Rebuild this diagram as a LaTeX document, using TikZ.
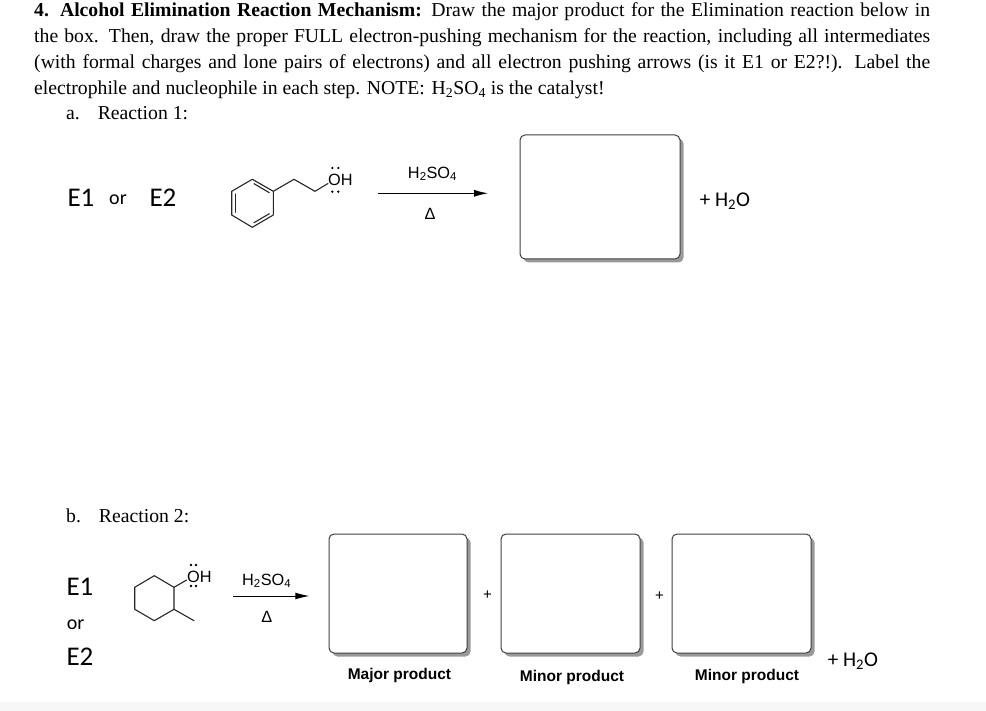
\documentclass[tikz,border=0pt]{standalone}
\usepackage{fontspec}
\setmainfont{Liberation Serif}
\newfontfamily\chemfont{Liberation Sans}
\newfontfamily\calfont{Carlito}
\usetikzlibrary{positioning,arrows.meta,shadows}

\begin{document}
\begin{tikzpicture}[x=1pt,y=-1pt,
    question/.style={anchor=west, inner sep=0pt, font=\fontsize{19.7}{26}\selectfont},
    chem/.style={inner sep=0pt, font=\chemfont\fontsize{16.3}{18}\selectfont},
    choice/.style={inner sep=0pt, font=\calfont\fontsize{27}{29}\selectfont},
    orword/.style={inner sep=0pt, font=\calfont\fontsize{20}{22}\selectfont},
    water/.style={inner sep=0pt, font=\calfont\fontsize{21}{23}\selectfont},
    plus/.style={inner sep=0pt, font=\chemfont\fontsize{15}{16}\selectfont},
    tag/.style={inner sep=0pt, font=\chemfont\bfseries\fontsize{15.5}{18}\selectfont},
    prodbox/.style={draw=black!75, fill=white, line width=1pt, rounded corners=5pt,
        minimum width=139pt, minimum height=119pt,
        drop shadow={shadow xshift=3.5pt, shadow yshift=-3.5pt, fill=black!40, opacity=1}},
    bond/.style={draw=black!85, line width=1.1pt, line cap=round, line join=round},
    rxn/.style={draw=black, line width=1pt, -{Latex[length=14pt,width=7pt]}}
]
    \useasboundingbox (0,0) rectangle (986,711);
    \fill[black!3] (0,702) rectangle (986,711);

    % question text
    \node [anchor=north west, inner sep=0pt, text width=896pt, align=justify,
        font=\fontsize{19.7}{26}\selectfont] (intro) at (34,2)
        {\textbf{4. Alcohol Elimination Reaction Mechanism:} Draw the major product for the Elimination reaction below in\linebreak
        the box. Then, draw the proper FULL electron-pushing mechanism for the reaction, including all intermediates\linebreak
        (with formal charges and lone pairs of electrons) and all electron pushing arrows (is it E1 or E2?!). Label the\linebreak
        electrophile and nucleophile in each step. NOTE:\hspace{2pt} H\textsubscript{2}SO\textsubscript{4} is the catalyst!};
    \node [question] (parta) at (66,113) {a.\hspace{18pt}Reaction 1:};
    \node [question] (partb) at (66,516) {b.\hspace{18pt}Reaction 2:};

    % reaction 1
    \node [choice] (eonea) at (81,198) {E1};
    \node [orword] (ora) at (118,200) {or};
    \node [choice] (etwoa) at (163,198) {E2};

    \coordinate (a1) at (252.3,179.3);
    \coordinate (a2) at (273.3,191.3);
    \coordinate (a3) at (273.3,215);
    \coordinate (a4) at (252.3,227.3);
    \coordinate (a5) at (231.7,215);
    \coordinate (a6) at (231.7,191.3);
    \coordinate (a7) at (294,179.3);
    \coordinate (a8) at (315,191.3);
    \coordinate (a9) at (328,183.5);
    \draw [bond] (a1) -- (a2) -- (a3) -- (a4) -- (a5) -- (a6) -- cycle;
    \draw [bond] (235.7,194) -- (235.7,212.3);
    \draw [bond] (254,183.7) -- (269.3,192.7);
    \draw [bond] (254,222.7) -- (269.3,213.7);
    \draw [bond] (a2) -- (a7) -- (a8) -- (a9);
    \node [chem, anchor=west] (oha) at (328,180) {OH};
    \foreach \dx in {332.3,338.3} {
        \fill (\dx,168) circle (1.3pt);
        \fill (\dx,191.7) circle (1.3pt);
    }

    \coordinate (arrowa) at (378,193.3);
    \coordinate (arrowb) at (488,193.3);
    \draw [rxn] (arrowa) -- (arrowb);
    \node [chem] (acida) at (432.5,174) {H\textsubscript{2}SO\textsubscript{4}};
    \node [chem] (heata) at (430,214) {Δ};

    \node [prodbox, minimum width=160pt, minimum height=124pt] (boxa) at (600,197) {};
    \node [water] (watera) at (725,201) {+ H\textsubscript{2}O};

    % reaction 2
    \node [choice] (eoneb) at (80,587) {E1};
    \node [orword] (orb) at (75.7,625) {or};
    \node [choice] (etwob) at (80,657) {E2};

    \coordinate (b1) at (154.3,575.7);
    \coordinate (b2) at (174,587.3);
    \coordinate (b3) at (174,609.3);
    \coordinate (b4) at (154.3,620.7);
    \coordinate (b5) at (134.7,609.3);
    \coordinate (b6) at (134.7,587.3);
    \coordinate (b7) at (194,620.7);
    \coordinate (b8) at (186.7,580);
    \draw [bond] (b1) -- (b2) -- (b3) -- (b4) -- (b5) -- (b6) -- cycle;
    \draw [bond] (b3) -- (b7);
    \draw [bond] (b2) -- (b8);
    \node [chem, anchor=west] (ohb) at (187,577) {OH};
    \foreach \dx in {191,196} {
        \fill (\dx,565) circle (1.3pt);
        \fill (\dx,586) circle (1.3pt);
    }

    \coordinate (arrowc) at (233.3,596);
    \coordinate (arrowd) at (309.3,596);
    \draw [rxn] (arrowc) -- (arrowd);
    \node [chem] (acidb) at (266.7,581) {H\textsubscript{2}SO\textsubscript{4}};
    \node [chem] (heatb) at (266.7,617) {Δ};

    \node [prodbox, minimum width=138pt] (major) at (398,593.5) {};
    \node [prodbox, right=33pt of major] (minora) {};
    \node [prodbox, right=31pt of minora] (minorb) {};
    \node [plus] (plusa) at (487.5,595) {+};
    \node [plus] (plusb) at (659.5,596) {+};
    \node [tag] (majortag) at (399.5,675) {Major product};
    \node [tag] (minoratag) at (572,677) {Minor product};
    \node [tag] (minorbtag) at (747,676) {Minor product};
    \node [water] (waterb) at (853,661) {+ H\textsubscript{2}O};
\end{tikzpicture}
\end{document}
